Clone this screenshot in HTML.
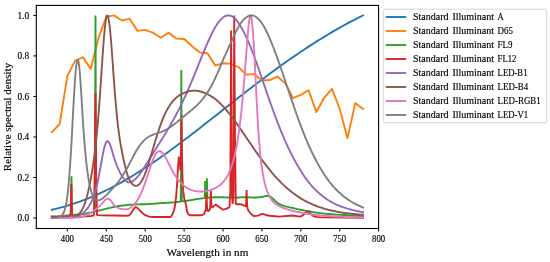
<!DOCTYPE html>
<html><head><meta charset="utf-8"><title>Standard Illuminants</title>
<style>
html,body{margin:0;padding:0;background:#fff;}
body{width:550px;height:262px;overflow:hidden;position:relative;}
.t{font-family:"Liberation Serif","DejaVu Serif",serif;fill:#000;stroke:#000;stroke-width:0.15px;}
</style></head><body>
<svg width="550" height="262" viewBox="0 0 550 262" style="position:absolute;left:0;top:0">
<rect width="550" height="262" fill="#fff"/>
<clipPath id="c"><rect x="36.3" y="5.4" width="342.3" height="223.1"/></clipPath>
<g clip-path="url(#c)"><polyline points="51.86,209.79 55.75,208.86 59.64,207.87 63.53,206.80 67.42,205.67 71.31,204.46 75.20,203.18 79.09,201.83 82.98,200.40 86.87,198.90 90.76,197.32 94.65,195.67 98.54,193.94 102.43,192.14 106.32,190.26 110.21,188.32 114.10,186.30 117.99,184.22 121.88,182.06 125.76,179.84 129.65,177.56 133.54,175.21 137.43,172.80 141.32,170.34 145.21,167.82 149.10,165.24 152.99,162.62 156.88,159.94 160.77,157.23 164.66,154.46 168.55,151.66 172.44,148.82 176.33,145.95 180.22,143.04 184.11,140.11 188.00,137.15 191.89,134.17 195.78,131.17 199.67,128.15 203.56,125.11 207.45,122.07 211.34,119.01 215.23,115.95 219.12,112.89 223.01,109.82 226.90,106.76 230.79,103.70 234.68,100.65 238.57,97.60 242.46,94.57 246.35,91.55 250.24,88.55 254.13,85.56 258.02,82.60 261.91,79.65 265.80,76.74 269.69,73.84 273.58,70.97 277.47,68.14 281.36,65.33 285.25,62.55 289.14,59.81 293.03,57.10 296.91,54.43 300.80,51.79 304.69,49.20 308.58,46.64 312.47,44.12 316.36,41.65 320.25,39.21 324.14,36.82 328.03,34.48 331.92,32.17 335.81,29.91 339.70,27.70 343.59,25.54 347.48,23.41 351.37,21.34 355.26,19.31 359.15,17.33 363.04,15.40" fill="none" stroke="#1f77b4" stroke-width="1.9" stroke-linejoin="round" stroke-linecap="square"/>
<polyline points="51.86,132.06 55.75,128.04 59.64,124.02 63.53,99.85 67.42,75.69 71.31,68.18 75.20,60.67 79.09,59.00 82.98,57.33 86.87,63.13 90.76,68.93 94.65,53.30 98.54,37.66 102.43,27.22 106.32,16.78 110.21,16.09 114.10,15.40 117.99,17.94 121.88,20.47 125.76,19.56 129.65,18.65 133.54,24.76 137.43,30.88 141.32,30.41 145.21,29.95 149.10,31.28 152.99,32.61 156.88,35.20 160.77,37.79 164.66,35.30 168.55,32.81 172.44,35.63 176.33,38.46 180.22,38.77 184.11,39.07 188.00,42.55 191.89,46.03 195.78,49.18 199.67,52.34 203.56,52.80 207.45,53.27 211.34,59.38 215.23,65.49 219.12,64.35 223.01,63.22 226.90,63.57 230.79,63.92 234.68,65.55 238.57,67.19 242.46,70.98 246.35,74.77 250.24,74.42 254.13,74.06 258.02,77.22 261.91,80.38 265.80,80.22 269.69,80.06 273.58,78.28 277.47,76.51 281.36,79.94 285.25,83.38 289.14,90.74 293.03,98.10 296.91,96.48 300.80,94.85 304.69,92.50 308.58,90.14 312.47,101.10 316.36,112.06 320.25,104.94 324.14,97.82 328.03,93.35 331.92,88.87 335.81,98.76 339.70,108.64 343.59,123.41 347.48,138.18 351.37,120.65 355.26,103.12 359.15,106.06 363.04,109.00" fill="none" stroke="#ff7f0e" stroke-width="1.9" stroke-linejoin="round" stroke-linecap="square"/>
<polyline points="51.86,216.73 52.64,216.66 53.41,216.60 54.19,216.54 54.97,216.48 55.75,216.41 56.53,216.35 57.30,216.28 58.08,216.21 58.86,216.14 59.64,216.07 60.42,216.01 61.19,215.94 61.97,215.87 62.75,215.80 63.53,215.73 64.31,215.67 65.08,215.60 65.86,215.53 66.64,215.46 67.42,215.39 68.20,215.33 68.97,215.26 69.75,215.19 70.53,215.12 70.92,215.09 71.31,188.19 71.46,176.26 72.01,214.99 72.09,214.99 72.86,214.92 73.64,214.85 74.42,214.78 75.20,214.71 75.98,214.65 76.75,214.58 77.53,214.51 78.31,214.44 79.09,214.37 79.87,214.29 80.64,214.20 81.42,214.12 82.20,214.03 82.98,213.95 83.76,213.83 84.53,213.70 85.31,213.58 86.09,213.45 86.87,213.33 87.64,213.18 88.42,213.03 89.20,212.89 89.98,212.74 90.76,212.59 91.53,212.40 92.31,212.21 93.09,212.02 93.87,211.83 94.65,211.64 94.96,211.56 95.42,44.34 95.50,15.40 96.05,211.29 96.20,211.26 96.98,211.06 97.76,210.87 98.54,210.68 99.31,210.49 100.09,210.30 100.87,210.11 101.65,209.92 102.43,209.73 103.20,209.52 103.98,209.32 104.76,209.11 105.54,208.90 106.32,208.70 107.09,208.50 107.87,208.31 108.65,208.12 109.43,207.93 110.21,207.73 110.98,207.56 111.76,207.39 112.54,207.22 113.32,207.04 114.10,206.87 114.87,206.73 115.65,206.59 116.43,206.45 117.21,206.31 117.99,206.18 118.76,206.06 119.54,205.95 120.32,205.84 121.10,205.72 121.88,205.61 122.65,205.52 123.43,205.43 124.21,205.35 124.99,205.26 125.76,205.17 126.54,205.10 127.32,205.03 128.10,204.96 128.88,204.89 129.65,204.82 130.43,204.77 131.21,204.72 131.99,204.67 132.77,204.62 133.54,204.58 134.32,204.54 135.10,204.50 135.88,204.47 136.66,204.43 137.43,204.39 138.21,204.37 138.99,204.35 139.77,204.33 140.55,204.31 141.32,204.29 142.10,204.28 142.88,204.26 143.66,204.24 144.44,204.22 145.21,204.21 145.99,204.17 146.77,204.13 147.55,204.09 148.33,204.05 149.10,204.01 149.88,203.96 150.66,203.92 151.44,203.87 152.22,203.83 152.99,203.78 153.77,203.72 154.55,203.66 155.33,203.60 156.10,203.53 156.88,203.47 157.66,203.41 158.44,203.35 159.22,203.28 159.99,203.22 160.77,203.16 161.55,203.12 162.33,203.07 163.11,203.03 163.88,202.99 164.66,202.95 165.44,202.90 166.22,202.86 167.00,202.82 167.77,202.78 168.55,202.73 169.33,202.68 170.11,202.63 170.89,202.58 171.66,202.53 172.44,202.48 173.22,202.42 174.00,202.36 174.78,202.29 175.55,202.23 176.33,202.17 177.11,202.06 177.89,201.96 178.67,201.86 179.44,201.75 180.22,201.65 180.77,201.58 181.00,154.62 181.31,70.10 181.78,196.87 181.86,201.43 182.56,201.34 183.33,201.23 184.11,201.13 184.89,201.03 185.67,200.92 186.45,200.82 187.22,200.71 188.00,200.61 188.78,200.48 189.56,200.35 190.33,200.22 191.11,200.09 191.89,199.96 192.67,199.83 193.45,199.69 194.22,199.56 195.00,199.43 195.78,199.29 196.56,199.17 197.34,199.04 198.11,198.92 198.89,198.80 199.67,198.67 200.45,198.59 201.23,198.50 202.00,198.42 202.78,198.33 203.56,198.25 204.34,198.16 204.65,198.13 205.12,186.22 205.19,180.92 205.74,198.01 205.89,197.99 206.28,197.95 206.67,189.56 206.83,178.19 207.37,197.83 207.45,197.82 208.23,197.74 209.01,197.65 209.78,197.57 210.56,197.48 211.34,197.40 212.12,197.37 212.90,197.34 213.67,197.31 214.45,197.28 215.23,197.25 216.01,197.25 216.79,197.25 217.56,197.25 218.34,197.24 219.12,197.24 219.90,197.25 220.68,197.27 221.45,197.28 222.23,197.30 223.01,197.31 223.79,197.34 224.56,197.37 225.34,197.40 226.12,197.44 226.90,197.47 227.68,197.50 228.45,197.53 229.23,197.56 230.01,197.59 230.79,197.62 231.57,197.62 232.34,197.62 233.12,197.61 233.90,197.61 234.68,197.61 235.46,197.59 236.23,197.57 237.01,197.55 237.79,197.53 238.57,197.51 239.35,197.47 240.12,197.42 240.90,197.38 241.68,197.34 242.46,197.30 243.24,197.27 244.01,197.24 244.79,197.21 245.57,197.18 246.35,197.16 247.13,197.20 247.90,197.25 248.68,197.30 249.46,197.35 250.24,197.40 251.02,197.44 251.79,197.48 252.57,197.52 253.35,197.57 254.13,197.61 254.91,197.56 255.68,197.51 256.46,197.46 257.24,197.40 258.02,197.35 258.80,197.27 259.57,197.18 260.35,197.10 261.13,197.01 261.91,196.93 262.68,196.75 263.46,196.57 264.24,196.39 265.02,196.21 265.80,196.04 266.57,196.05 267.35,196.06 268.13,196.07 268.91,196.08 269.69,196.09 270.46,196.74 271.24,197.38 272.02,198.02 272.80,198.66 273.58,199.31 274.35,200.05 275.13,200.80 275.91,201.54 276.69,202.29 277.47,203.03 278.24,203.43 279.02,203.82 279.80,204.21 280.58,204.61 281.36,205.00 282.13,205.26 282.91,205.53 283.69,205.79 284.47,206.05 285.25,206.32 286.02,206.51 286.80,206.70 287.58,206.90 288.36,207.09 289.14,207.28 289.91,207.43 290.69,207.59 291.47,207.74 292.25,207.89 293.03,208.04 293.80,208.24 294.58,208.43 295.36,208.62 296.14,208.82 296.91,209.01 297.69,209.19 298.47,209.36 299.25,209.54 300.03,209.72 300.80,209.90 301.58,210.03 302.36,210.17 303.14,210.30 303.92,210.43 304.69,210.57 305.47,210.69 306.25,210.82 307.03,210.95 307.81,211.08 308.58,211.20 309.36,211.35 310.14,211.49 310.92,211.64 311.70,211.78 312.47,211.92 313.25,212.06 314.03,212.20 314.81,212.34 315.59,212.48 316.36,212.62 317.14,212.72 317.92,212.83 318.70,212.93 319.48,213.04 320.25,213.14 321.03,213.23 321.81,213.32 322.59,213.41 323.37,213.49 324.14,213.58 324.92,213.66 325.70,213.73 326.48,213.80 327.25,213.88 328.03,213.95 328.81,214.01 329.59,214.07 330.37,214.14 331.14,214.20 331.92,214.26 332.70,214.32 333.48,214.38 334.26,214.44 335.03,214.50 335.81,214.56 336.59,214.61 337.37,214.66 338.15,214.70 338.92,214.75 339.70,214.80 340.48,214.83 341.26,214.87 342.04,214.90 342.81,214.94 343.59,214.97 344.37,215.00 345.15,215.04 345.93,215.07 346.70,215.11 347.48,215.14 348.26,215.19 349.04,215.25 349.82,215.30 350.59,215.35 351.37,215.41 352.15,215.47 352.93,215.53 353.71,215.60 354.48,215.66 355.26,215.72 356.04,215.79 356.82,215.85 357.60,215.92 358.37,215.98 359.15,216.05 359.93,216.12 360.71,216.19 361.49,216.27 362.26,216.34 363.04,216.41" fill="none" stroke="#2ca02c" stroke-width="1.9" stroke-linejoin="bevel" stroke-linecap="square"/>
<polyline points="51.86,216.38 55.75,216.78 63.53,216.99 70.06,216.58 70.69,211.92 71.31,183.96 71.93,211.92 72.55,216.58 82.98,216.58 90.76,215.97 93.87,215.37 94.65,177.48 95.42,93.00 96.20,177.48 96.98,215.16 102.43,215.37 114.10,215.57 125.76,215.77 128.88,215.57 131.21,213.14 133.54,209.09 135.10,207.46 135.88,207.26 137.43,207.87 139.77,210.30 142.10,212.73 145.21,215.16 149.10,216.58 152.99,216.99 168.55,216.99 170.89,216.78 172.44,214.35 174.00,210.30 174.78,206.86 175.55,201.79 176.33,194.09 177.11,183.56 177.89,169.38 178.67,158.23 179.13,156.81 179.75,159.25 180.38,170.39 180.84,167.35 181.47,115.28 182.09,161.27 182.56,179.51 183.33,191.66 184.11,197.74 184.89,200.78 185.67,203.41 186.45,207.87 187.22,211.92 188.00,213.54 188.78,214.56 190.33,215.26 201.23,215.26 203.56,214.35 204.34,213.54 205.12,210.91 205.89,209.90 206.52,194.09 207.14,209.90 208.23,211.52 210.10,208.88 210.80,190.65 211.50,205.84 212.51,207.67 213.67,206.25 215.23,204.83 216.01,204.63 219.12,207.06 223.01,209.69 226.12,208.88 229.23,207.46 229.54,206.25 230.32,191.66 231.10,30.39 231.88,193.69 232.66,203.82 233.43,193.69 234.21,15.40 234.99,136.96 235.77,203.82 236.23,204.22 240.90,204.22 246.04,206.45 246.58,190.04 247.13,205.84 247.90,209.69 251.02,213.95 254.13,216.18 258.02,215.57 261.91,213.95 262.68,213.95 265.80,214.96 269.69,215.77 279.02,216.58 292.25,215.47 300.03,216.58 303.14,215.16 305.47,212.73 307.81,211.52 308.58,211.52 310.92,213.95 313.25,215.97 315.59,216.89 320.25,217.39 363.04,217.80" fill="none" stroke="#d62728" stroke-width="1.9" stroke-linejoin="bevel" stroke-linecap="square"/>
<polyline points="51.86,218.00 52.64,217.96 53.41,217.93 54.19,217.92 54.97,217.91 55.75,217.90 56.53,217.90 57.30,217.91 58.08,217.91 58.86,217.91 59.64,217.90 60.42,217.89 61.19,217.88 61.97,217.86 62.75,217.84 63.53,217.81 64.31,217.77 65.08,217.73 65.86,217.69 66.64,217.65 67.42,217.61 68.20,217.58 68.97,217.53 69.75,217.48 70.53,217.41 71.31,217.33 72.09,217.21 72.86,217.07 73.64,216.91 74.42,216.74 75.20,216.55 75.98,216.36 76.75,216.14 77.53,215.90 78.31,215.63 79.09,215.30 79.87,214.92 80.64,214.49 81.42,214.00 82.20,213.47 82.98,212.89 83.76,212.27 84.53,211.59 85.31,210.84 86.09,210.03 86.87,209.13 87.64,208.14 88.42,207.05 89.20,205.86 89.98,204.57 90.76,203.15 91.53,201.62 92.31,199.94 93.09,198.08 93.87,196.01 94.65,193.71 95.42,191.14 96.20,188.29 96.98,185.15 97.76,181.69 98.54,177.90 99.31,173.78 100.09,169.45 100.87,165.02 101.65,160.63 102.43,156.40 103.20,152.46 103.98,148.92 104.76,145.91 105.54,143.54 106.32,141.94 107.09,141.17 107.87,141.19 108.65,141.90 109.43,143.21 110.21,145.02 110.98,147.24 111.76,149.75 112.54,152.42 113.32,155.13 114.10,157.75 114.87,160.18 115.65,162.43 116.43,164.51 117.21,166.44 117.99,168.26 118.76,169.96 119.54,171.58 120.32,173.10 121.10,174.53 121.88,175.87 122.65,177.13 123.43,178.29 124.21,179.33 124.99,180.23 125.76,180.98 126.54,181.56 127.32,181.97 128.10,182.23 128.88,182.35 129.65,182.33 130.43,182.19 131.21,181.93 131.99,181.57 132.77,181.13 133.54,180.60 134.32,179.99 135.10,179.33 135.88,178.59 136.66,177.79 137.43,176.93 138.21,176.01 138.99,175.04 139.77,174.01 140.55,172.94 141.32,171.82 142.10,170.67 142.88,169.49 143.66,168.29 144.44,167.07 145.21,165.85 145.99,164.62 146.77,163.39 147.55,162.16 148.33,160.92 149.10,159.68 149.88,158.43 150.66,157.17 151.44,155.91 152.22,154.66 152.99,153.41 153.77,152.17 154.55,150.93 155.33,149.69 156.10,148.47 156.88,147.24 157.66,146.01 158.44,144.79 159.22,143.56 159.99,142.32 160.77,141.07 161.55,139.81 162.33,138.54 163.11,137.27 163.88,135.99 164.66,134.71 165.44,133.43 166.22,132.15 167.00,130.86 167.77,129.56 168.55,128.25 169.33,126.91 170.11,125.56 170.89,124.19 171.66,122.80 172.44,121.40 173.22,119.99 174.00,118.57 174.78,117.14 175.55,115.71 176.33,114.27 177.11,112.82 177.89,111.37 178.67,109.89 179.44,108.38 180.22,106.85 181.00,105.27 181.78,103.65 182.56,102.01 183.33,100.34 184.11,98.65 184.89,96.95 185.67,95.24 186.45,93.50 187.22,91.75 188.00,89.98 188.78,88.17 189.56,86.35 190.33,84.52 191.11,82.67 191.89,80.82 192.67,78.96 193.45,77.10 194.22,75.24 195.00,73.36 195.78,71.47 196.56,69.56 197.34,67.63 198.11,65.70 198.89,63.76 199.67,61.83 200.45,59.90 201.23,57.98 202.00,56.07 202.78,54.17 203.56,52.28 204.34,50.41 205.12,48.56 205.89,46.73 206.67,44.91 207.45,43.12 208.23,41.36 209.01,39.62 209.78,37.92 210.56,36.26 211.34,34.64 212.12,33.07 212.90,31.54 213.67,30.07 214.45,28.66 215.23,27.31 216.01,26.03 216.79,24.80 217.56,23.65 218.34,22.55 219.12,21.53 219.90,20.57 220.68,19.68 221.45,18.86 222.23,18.13 223.01,17.48 223.79,16.92 224.56,16.44 225.34,16.06 226.12,15.76 226.90,15.55 227.68,15.43 228.45,15.40 229.23,15.46 230.01,15.60 230.79,15.84 231.57,16.17 232.34,16.58 233.12,17.08 233.90,17.67 234.68,18.35 235.46,19.11 236.23,19.95 237.01,20.88 237.79,21.89 238.57,22.97 239.35,24.14 240.12,25.38 240.90,26.68 241.68,28.03 242.46,29.43 243.24,30.88 244.01,32.37 244.79,33.91 245.57,35.50 246.35,37.15 247.13,38.86 247.90,40.62 248.68,42.44 249.46,44.30 250.24,46.21 251.02,48.15 251.79,50.12 252.57,52.12 253.35,54.16 254.13,56.23 254.91,58.34 255.68,60.47 256.46,62.63 257.24,64.82 258.02,67.03 258.80,69.26 259.57,71.51 260.35,73.77 261.13,76.03 261.91,78.31 262.68,80.59 263.46,82.87 264.24,85.15 265.02,87.42 265.80,89.69 266.57,91.94 267.35,94.19 268.13,96.42 268.91,98.65 269.69,100.87 270.46,103.08 271.24,105.28 272.02,107.46 272.80,109.63 273.58,111.76 274.35,113.87 275.13,115.96 275.91,118.02 276.69,120.05 277.47,122.08 278.24,124.09 279.02,126.08 279.80,128.05 280.58,129.99 281.36,131.91 282.13,133.80 282.91,135.66 283.69,137.49 284.47,139.29 285.25,141.07 286.02,142.82 286.80,144.55 287.58,146.25 288.36,147.92 289.14,149.55 289.91,151.16 290.69,152.73 291.47,154.27 292.25,155.78 293.03,157.27 293.80,158.72 294.58,160.15 295.36,161.56 296.14,162.94 296.91,164.30 297.69,165.65 298.47,166.97 299.25,168.28 300.03,169.58 300.80,170.86 301.58,172.12 302.36,173.37 303.14,174.59 303.92,175.78 304.69,176.93 305.47,178.04 306.25,179.12 307.03,180.16 307.81,181.16 308.58,182.14 309.36,183.09 310.14,184.01 310.92,184.92 311.70,185.80 312.47,186.67 313.25,187.52 314.03,188.35 314.81,189.16 315.59,189.95 316.36,190.72 317.14,191.45 317.92,192.17 318.70,192.86 319.48,193.53 320.25,194.19 321.03,194.83 321.81,195.46 322.59,196.08 323.37,196.68 324.14,197.27 324.92,197.85 325.70,198.40 326.48,198.94 327.25,199.47 328.03,199.97 328.81,200.46 329.59,200.94 330.37,201.40 331.14,201.85 331.92,202.29 332.70,202.72 333.48,203.14 334.26,203.54 335.03,203.94 335.81,204.31 336.59,204.67 337.37,205.00 338.15,205.33 338.92,205.64 339.70,205.95 340.48,206.25 341.26,206.55 342.04,206.84 342.81,207.12 343.59,207.40 344.37,207.66 345.15,207.92 345.93,208.17 346.70,208.42 347.48,208.65 348.26,208.87 349.04,209.09 349.82,209.30 350.59,209.51 351.37,209.71 352.15,209.91 352.93,210.11 353.71,210.31 354.48,210.49 355.26,210.67 356.04,210.84 356.82,211.00 357.60,211.16 358.37,211.30 359.15,211.44 359.93,211.58 360.71,211.72 361.49,211.85 362.26,211.98 363.04,212.12" fill="none" stroke="#9467bd" stroke-width="1.9" stroke-linejoin="round" stroke-linecap="square"/>
<polyline points="51.86,218.00 52.64,217.99 53.41,217.99 54.19,217.99 54.97,218.00 55.75,218.00 56.53,218.00 57.30,218.00 58.08,218.00 58.86,218.00 59.64,218.00 60.42,217.99 61.19,217.98 61.97,217.96 62.75,217.94 63.53,217.92 64.31,217.90 65.08,217.87 65.86,217.84 66.64,217.81 67.42,217.77 68.20,217.72 68.97,217.66 69.75,217.58 70.53,217.49 71.31,217.38 72.09,217.25 72.86,217.09 73.64,216.89 74.42,216.66 75.20,216.37 75.98,216.04 76.75,215.63 77.53,215.14 78.31,214.54 79.09,213.82 79.87,212.96 80.64,211.94 81.42,210.77 82.20,209.41 82.98,207.85 83.76,206.09 84.53,204.11 85.31,201.90 86.09,199.43 86.87,196.70 87.64,193.69 88.42,190.41 89.20,186.86 89.98,183.04 90.76,178.96 91.53,174.62 92.31,169.97 93.09,164.95 93.87,159.53 94.65,153.64 95.42,147.22 96.20,140.19 96.98,132.45 97.76,123.90 98.54,114.45 99.31,104.06 100.09,92.96 100.87,81.45 101.65,69.82 102.43,58.37 103.20,47.41 103.98,37.37 104.76,28.70 105.54,21.87 106.32,17.32 107.09,15.40 107.87,16.02 108.65,18.99 109.43,24.11 110.21,31.18 110.98,39.96 111.76,50.00 112.54,60.80 113.32,71.86 114.10,82.69 114.87,92.86 115.65,102.29 116.43,110.93 117.21,118.79 117.99,125.83 118.76,132.06 119.54,137.59 120.32,142.54 121.10,147.05 121.88,151.24 122.65,155.21 123.43,158.98 124.21,162.53 124.99,165.84 125.76,168.89 126.54,171.68 127.32,174.20 128.10,176.44 128.88,178.42 129.65,180.13 130.43,181.57 131.21,182.76 131.99,183.73 132.77,184.49 133.54,185.08 134.32,185.51 135.10,185.77 135.88,185.87 136.66,185.80 137.43,185.55 138.21,185.12 138.99,184.51 139.77,183.72 140.55,182.75 141.32,181.60 142.10,180.27 142.88,178.77 143.66,177.11 144.44,175.28 145.21,173.31 145.99,171.19 146.77,168.95 147.55,166.61 148.33,164.18 149.10,161.69 149.88,159.15 150.66,156.58 151.44,153.99 152.22,151.37 152.99,148.76 153.77,146.14 154.55,143.54 155.33,140.96 156.10,138.41 156.88,135.90 157.66,133.44 158.44,131.03 159.22,128.68 159.99,126.41 160.77,124.20 161.55,122.08 162.33,120.05 163.11,118.11 163.88,116.26 164.66,114.52 165.44,112.89 166.22,111.35 167.00,109.91 167.77,108.54 168.55,107.24 169.33,106.00 170.11,104.83 170.89,103.71 171.66,102.65 172.44,101.67 173.22,100.74 174.00,99.88 174.78,99.08 175.55,98.33 176.33,97.64 177.11,96.99 177.89,96.40 178.67,95.84 179.44,95.33 180.22,94.85 181.00,94.41 181.78,94.00 182.56,93.61 183.33,93.25 184.11,92.91 184.89,92.59 185.67,92.28 186.45,92.00 187.22,91.74 188.00,91.52 188.78,91.33 189.56,91.16 190.33,91.03 191.11,90.92 191.89,90.82 192.67,90.74 193.45,90.69 194.22,90.65 195.00,90.64 195.78,90.67 196.56,90.73 197.34,90.82 198.11,90.95 198.89,91.11 199.67,91.29 200.45,91.49 201.23,91.72 202.00,91.97 202.78,92.24 203.56,92.53 204.34,92.83 205.12,93.15 205.89,93.49 206.67,93.85 207.45,94.23 208.23,94.63 209.01,95.05 209.78,95.48 210.56,95.93 211.34,96.40 212.12,96.88 212.90,97.38 213.67,97.90 214.45,98.45 215.23,99.03 216.01,99.65 216.79,100.29 217.56,100.97 218.34,101.66 219.12,102.36 219.90,103.08 220.68,103.81 221.45,104.57 222.23,105.35 223.01,106.16 223.79,107.01 224.56,107.89 225.34,108.79 226.12,109.71 226.90,110.65 227.68,111.59 228.45,112.54 229.23,113.50 230.01,114.47 230.79,115.45 231.57,116.45 232.34,117.46 233.12,118.50 233.90,119.56 234.68,120.64 235.46,121.75 236.23,122.88 237.01,124.02 237.79,125.16 238.57,126.30 239.35,127.42 240.12,128.53 240.90,129.64 241.68,130.75 242.46,131.87 243.24,133.01 244.01,134.15 244.79,135.31 245.57,136.46 246.35,137.60 247.13,138.74 247.90,139.87 248.68,141.00 249.46,142.12 250.24,143.26 251.02,144.40 251.79,145.55 252.57,146.70 253.35,147.85 254.13,148.99 254.91,150.13 255.68,151.25 256.46,152.37 257.24,153.47 258.02,154.57 258.80,155.65 259.57,156.71 260.35,157.76 261.13,158.80 261.91,159.83 262.68,160.85 263.46,161.86 264.24,162.86 265.02,163.86 265.80,164.87 266.57,165.88 267.35,166.89 268.13,167.90 268.91,168.91 269.69,169.90 270.46,170.88 271.24,171.84 272.02,172.79 272.80,173.72 273.58,174.63 274.35,175.51 275.13,176.38 275.91,177.23 276.69,178.07 277.47,178.89 278.24,179.69 279.02,180.49 279.80,181.27 280.58,182.06 281.36,182.84 282.13,183.62 282.91,184.39 283.69,185.15 284.47,185.90 285.25,186.63 286.02,187.34 286.80,188.02 287.58,188.68 288.36,189.33 289.14,189.96 289.91,190.59 290.69,191.20 291.47,191.81 292.25,192.40 293.03,192.98 293.80,193.56 294.58,194.12 295.36,194.67 296.14,195.22 296.91,195.77 297.69,196.32 298.47,196.85 299.25,197.38 300.03,197.90 300.80,198.40 301.58,198.89 302.36,199.35 303.14,199.80 303.92,200.23 304.69,200.65 305.47,201.06 306.25,201.45 307.03,201.84 307.81,202.22 308.58,202.59 309.36,202.95 310.14,203.31 310.92,203.67 311.70,204.02 312.47,204.37 313.25,204.71 314.03,205.04 314.81,205.37 315.59,205.69 316.36,205.99 317.14,206.29 317.92,206.58 318.70,206.85 319.48,207.12 320.25,207.39 321.03,207.65 321.81,207.90 322.59,208.15 323.37,208.39 324.14,208.63 324.92,208.86 325.70,209.08 326.48,209.30 327.25,209.51 328.03,209.71 328.81,209.91 329.59,210.11 330.37,210.29 331.14,210.47 331.92,210.64 332.70,210.80 333.48,210.96 334.26,211.11 335.03,211.26 335.81,211.42 336.59,211.57 337.37,211.73 338.15,211.89 338.92,212.04 339.70,212.19 340.48,212.33 341.26,212.46 342.04,212.59 342.81,212.70 343.59,212.81 344.37,212.91 345.15,213.00 345.93,213.10 346.70,213.18 347.48,213.28 348.26,213.37 349.04,213.46 349.82,213.56 350.59,213.65 351.37,213.74 352.15,213.82 352.93,213.90 353.71,213.98 354.48,214.05 355.26,214.13 356.04,214.21 356.82,214.29 357.60,214.37 358.37,214.44 359.15,214.51 359.93,214.58 360.71,214.64 361.49,214.69 362.26,214.72 363.04,214.75" fill="none" stroke="#8c564b" stroke-width="1.9" stroke-linejoin="round" stroke-linecap="square"/>
<polyline points="51.86,218.00 52.64,218.00 53.41,218.00 54.19,218.00 54.97,218.00 55.75,218.00 56.53,218.00 57.30,218.00 58.08,218.00 58.86,218.00 59.64,218.00 60.42,218.00 61.19,217.99 61.97,217.98 62.75,217.97 63.53,217.97 64.31,217.96 65.08,217.96 65.86,217.95 66.64,217.94 67.42,217.94 68.20,217.92 68.97,217.91 69.75,217.89 70.53,217.86 71.31,217.84 72.09,217.81 72.86,217.78 73.64,217.74 74.42,217.70 75.20,217.64 75.98,217.58 76.75,217.51 77.53,217.43 78.31,217.34 79.09,217.22 79.87,217.10 80.64,216.95 81.42,216.78 82.20,216.59 82.98,216.38 83.76,216.15 84.53,215.90 85.31,215.61 86.09,215.30 86.87,214.96 87.64,214.59 88.42,214.19 89.20,213.76 89.98,213.31 90.76,212.83 91.53,212.33 92.31,211.81 93.09,211.27 93.87,210.71 94.65,210.15 95.42,209.57 96.20,208.98 96.98,208.37 97.76,207.74 98.54,207.08 99.31,206.38 100.09,205.65 100.87,204.88 101.65,204.05 102.43,203.17 103.20,202.23 103.98,201.29 104.76,200.42 105.54,199.68 106.32,199.13 107.09,198.82 107.87,198.76 108.65,198.95 109.43,199.37 110.21,200.03 110.98,200.91 111.76,201.93 112.54,203.02 113.32,204.10 114.10,205.07 114.87,205.89 115.65,206.55 116.43,207.08 117.21,207.50 117.99,207.85 118.76,208.15 119.54,208.39 120.32,208.61 121.10,208.79 121.88,208.95 122.65,209.10 123.43,209.22 124.21,209.31 124.99,209.35 125.76,209.34 126.54,209.26 127.32,209.11 128.10,208.89 128.88,208.59 129.65,208.21 130.43,207.75 131.21,207.21 131.99,206.59 132.77,205.90 133.54,205.14 134.32,204.30 135.10,203.39 135.88,202.39 136.66,201.31 137.43,200.13 138.21,198.85 138.99,197.46 139.77,195.97 140.55,194.37 141.32,192.66 142.10,190.85 142.88,188.92 143.66,186.90 144.44,184.78 145.21,182.58 145.99,180.29 146.77,177.95 147.55,175.57 148.33,173.17 149.10,170.78 149.88,168.43 150.66,166.13 151.44,163.91 152.22,161.79 152.99,159.80 153.77,157.95 154.55,156.29 155.33,154.82 156.10,153.58 156.88,152.59 157.66,151.87 158.44,151.41 159.22,151.20 159.99,151.25 160.77,151.52 161.55,152.02 162.33,152.73 163.11,153.62 163.88,154.68 164.66,155.89 165.44,157.22 166.22,158.65 167.00,160.16 167.77,161.71 168.55,163.29 169.33,164.86 170.11,166.41 170.89,167.94 171.66,169.43 172.44,170.88 173.22,172.27 174.00,173.61 174.78,174.88 175.55,176.09 176.33,177.25 177.11,178.34 177.89,179.37 178.67,180.35 179.44,181.28 180.22,182.16 181.00,183.00 181.78,183.79 182.56,184.54 183.33,185.25 184.11,185.91 184.89,186.53 185.67,187.10 186.45,187.63 187.22,188.12 188.00,188.56 188.78,188.96 189.56,189.32 190.33,189.65 191.11,189.94 191.89,190.21 192.67,190.45 193.45,190.66 194.22,190.85 195.00,191.01 195.78,191.14 196.56,191.25 197.34,191.33 198.11,191.40 198.89,191.44 199.67,191.47 200.45,191.48 201.23,191.48 202.00,191.46 202.78,191.43 203.56,191.37 204.34,191.29 205.12,191.19 205.89,191.08 206.67,190.94 207.45,190.79 208.23,190.62 209.01,190.44 209.78,190.23 210.56,190.00 211.34,189.75 212.12,189.48 212.90,189.18 213.67,188.85 214.45,188.49 215.23,188.11 216.01,187.69 216.79,187.25 217.56,186.76 218.34,186.24 219.12,185.68 219.90,185.07 220.68,184.42 221.45,183.71 222.23,182.95 223.01,182.13 223.79,181.24 224.56,180.29 225.34,179.24 226.12,178.09 226.90,176.83 227.68,175.44 228.45,173.90 229.23,172.23 230.01,170.39 230.79,168.39 231.57,166.21 232.34,163.83 233.12,161.22 233.90,158.36 234.68,155.21 235.46,151.74 236.23,147.92 237.01,143.71 237.79,139.07 238.57,133.94 239.35,128.30 240.12,122.13 240.90,115.39 241.68,108.06 242.46,100.14 243.24,91.60 244.01,82.52 244.79,72.98 245.57,63.07 246.35,52.86 247.13,42.55 247.90,32.85 248.68,24.55 249.46,18.46 250.24,15.40 251.02,15.97 251.79,20.04 252.57,27.24 253.35,37.25 254.13,49.72 254.91,64.22 255.68,79.94 256.46,95.99 257.24,111.48 258.02,125.51 258.80,137.39 259.57,147.24 260.35,155.40 261.13,162.18 261.91,167.91 262.68,172.87 263.46,177.19 264.24,180.93 265.02,184.19 265.80,187.04 266.57,189.55 267.35,191.75 268.13,193.69 268.91,195.38 269.69,196.86 270.46,198.17 271.24,199.31 272.02,200.31 272.80,201.21 273.58,202.00 274.35,202.73 275.13,203.38 275.91,203.98 276.69,204.53 277.47,205.04 278.24,205.51 279.02,205.95 279.80,206.36 280.58,206.75 281.36,207.11 282.13,207.45 282.91,207.78 283.69,208.09 284.47,208.38 285.25,208.66 286.02,208.92 286.80,209.18 287.58,209.42 288.36,209.66 289.14,209.89 289.91,210.12 290.69,210.34 291.47,210.55 292.25,210.76 293.03,210.95 293.80,211.14 294.58,211.31 295.36,211.47 296.14,211.64 296.91,211.79 297.69,211.96 298.47,212.12 299.25,212.28 300.03,212.44 300.80,212.60 301.58,212.76 302.36,212.91 303.14,213.06 303.92,213.21 304.69,213.35 305.47,213.48 306.25,213.61 307.03,213.73 307.81,213.85 308.58,213.96 309.36,214.07 310.14,214.17 310.92,214.27 311.70,214.37 312.47,214.48 313.25,214.58 314.03,214.69 314.81,214.80 315.59,214.90 316.36,214.99 317.14,215.08 317.92,215.15 318.70,215.22 319.48,215.28 320.25,215.35 321.03,215.42 321.81,215.49 322.59,215.56 323.37,215.63 324.14,215.71 324.92,215.78 325.70,215.84 326.48,215.91 327.25,215.97 328.03,216.03 328.81,216.08 329.59,216.13 330.37,216.19 331.14,216.24 331.92,216.29 332.70,216.34 333.48,216.40 334.26,216.45 335.03,216.50 335.81,216.55 336.59,216.59 337.37,216.62 338.15,216.65 338.92,216.68 339.70,216.71 340.48,216.74 341.26,216.77 342.04,216.80 342.81,216.83 343.59,216.87 344.37,216.90 345.15,216.94 345.93,216.97 346.70,217.00 347.48,217.03 348.26,217.05 349.04,217.07 349.82,217.09 350.59,217.11 351.37,217.13 352.15,217.15 352.93,217.17 353.71,217.18 354.48,217.20 355.26,217.22 356.04,217.24 356.82,217.26 357.60,217.28 358.37,217.30 359.15,217.32 359.93,217.34 360.71,217.37 361.49,217.39 362.26,217.42 363.04,217.45" fill="none" stroke="#e377c2" stroke-width="1.9" stroke-linejoin="round" stroke-linecap="square"/>
<polyline points="51.86,217.91 52.64,217.89 53.41,217.87 54.19,217.84 54.97,217.80 55.75,217.74 56.53,217.65 57.30,217.52 58.08,217.34 58.86,217.11 59.64,216.80 60.42,216.42 61.19,215.89 61.97,215.15 62.75,214.14 63.53,212.79 64.31,211.02 65.08,208.63 65.86,205.41 66.64,201.14 67.42,195.63 68.20,188.68 68.97,180.25 69.75,170.34 70.53,158.93 71.31,146.02 72.09,131.74 72.86,116.82 73.64,102.14 74.42,88.59 75.20,77.02 75.98,68.21 76.75,62.44 77.53,59.89 78.31,60.74 79.09,65.15 79.87,73.11 80.64,83.78 81.42,96.15 82.20,109.18 82.98,121.85 83.76,133.32 84.53,143.51 85.31,152.50 86.09,160.39 86.87,167.28 87.64,173.26 88.42,178.42 89.20,182.83 89.98,186.57 90.76,189.74 91.53,192.39 92.31,194.58 93.09,196.34 93.87,197.73 94.65,198.79 95.42,199.54 96.20,200.04 96.98,200.31 97.76,200.40 98.54,200.32 99.31,200.13 100.09,199.83 100.87,199.44 101.65,198.98 102.43,198.45 103.20,197.86 103.98,197.23 104.76,196.56 105.54,195.86 106.32,195.12 107.09,194.35 107.87,193.55 108.65,192.75 109.43,191.93 110.21,191.10 110.98,190.28 111.76,189.45 112.54,188.61 113.32,187.77 114.10,186.92 114.87,186.05 115.65,185.16 116.43,184.25 117.21,183.30 117.99,182.31 118.76,181.27 119.54,180.20 120.32,179.08 121.10,177.93 121.88,176.76 122.65,175.55 123.43,174.32 124.21,173.06 124.99,171.76 125.76,170.44 126.54,169.08 127.32,167.68 128.10,166.26 128.88,164.82 129.65,163.35 130.43,161.87 131.21,160.38 131.99,158.88 132.77,157.40 133.54,155.92 134.32,154.46 135.10,153.04 135.88,151.64 136.66,150.30 137.43,149.00 138.21,147.77 138.99,146.60 139.77,145.49 140.55,144.44 141.32,143.45 142.10,142.52 142.88,141.65 143.66,140.83 144.44,140.07 145.21,139.35 145.99,138.69 146.77,138.08 147.55,137.52 148.33,137.01 149.10,136.54 149.88,136.11 150.66,135.73 151.44,135.38 152.22,135.05 152.99,134.74 153.77,134.45 154.55,134.17 155.33,133.89 156.10,133.63 156.88,133.38 157.66,133.13 158.44,132.89 159.22,132.64 159.99,132.38 160.77,132.10 161.55,131.79 162.33,131.47 163.11,131.13 163.88,130.77 164.66,130.39 165.44,130.00 166.22,129.59 167.00,129.17 167.77,128.72 168.55,128.25 169.33,127.76 170.11,127.25 170.89,126.72 171.66,126.17 172.44,125.61 173.22,125.03 174.00,124.45 174.78,123.85 175.55,123.24 176.33,122.62 177.11,121.98 177.89,121.33 178.67,120.68 179.44,120.02 180.22,119.37 181.00,118.73 181.78,118.10 182.56,117.48 183.33,116.85 184.11,116.21 184.89,115.57 185.67,114.93 186.45,114.28 187.22,113.62 188.00,112.97 188.78,112.32 189.56,111.67 190.33,111.02 191.11,110.37 191.89,109.72 192.67,109.08 193.45,108.42 194.22,107.76 195.00,107.09 195.78,106.39 196.56,105.68 197.34,104.94 198.11,104.17 198.89,103.38 199.67,102.55 200.45,101.69 201.23,100.81 202.00,99.88 202.78,98.93 203.56,97.94 204.34,96.92 205.12,95.86 205.89,94.77 206.67,93.64 207.45,92.48 208.23,91.28 209.01,90.03 209.78,88.74 210.56,87.40 211.34,85.99 212.12,84.51 212.90,82.97 213.67,81.39 214.45,79.77 215.23,78.13 216.01,76.47 216.79,74.79 217.56,73.08 218.34,71.32 219.12,69.51 219.90,67.63 220.68,65.72 221.45,63.80 222.23,61.89 223.01,60.03 223.79,58.23 224.56,56.48 225.34,54.78 226.12,53.09 226.90,51.40 227.68,49.70 228.45,47.99 229.23,46.26 230.01,44.52 230.79,42.78 231.57,41.03 232.34,39.29 233.12,37.56 233.90,35.88 234.68,34.24 235.46,32.66 236.23,31.14 237.01,29.67 237.79,28.26 238.57,26.89 239.35,25.58 240.12,24.33 240.90,23.14 241.68,22.03 242.46,21.00 243.24,20.07 244.01,19.23 244.79,18.49 245.57,17.82 246.35,17.25 247.13,16.75 247.90,16.33 248.68,15.99 249.46,15.72 250.24,15.54 251.02,15.43 251.79,15.40 252.57,15.46 253.35,15.62 254.13,15.88 254.91,16.25 255.68,16.71 256.46,17.27 257.24,17.91 258.02,18.61 258.80,19.38 259.57,20.21 260.35,21.13 261.13,22.13 261.91,23.22 262.68,24.42 263.46,25.71 264.24,27.09 265.02,28.54 265.80,30.05 266.57,31.62 267.35,33.25 268.13,34.92 268.91,36.65 269.69,38.42 270.46,40.25 271.24,42.12 272.02,44.04 272.80,46.00 273.58,47.99 274.35,50.01 275.13,52.06 275.91,54.14 276.69,56.26 277.47,58.40 278.24,60.58 279.02,62.78 279.80,65.01 280.58,67.25 281.36,69.51 282.13,71.77 282.91,74.05 283.69,76.34 284.47,78.64 285.25,80.95 286.02,83.27 286.80,85.60 287.58,87.93 288.36,90.25 289.14,92.56 289.91,94.85 290.69,97.12 291.47,99.39 292.25,101.65 293.03,103.92 293.80,106.19 294.58,108.47 295.36,110.73 296.14,112.98 296.91,115.19 297.69,117.36 298.47,119.51 299.25,121.62 300.03,123.71 300.80,125.78 301.58,127.84 302.36,129.88 303.14,131.90 303.92,133.89 304.69,135.85 305.47,137.78 306.25,139.66 307.03,141.51 307.81,143.31 308.58,145.08 309.36,146.80 310.14,148.49 310.92,150.14 311.70,151.77 312.47,153.36 313.25,154.93 314.03,156.47 314.81,157.99 315.59,159.49 316.36,160.96 317.14,162.41 317.92,163.84 318.70,165.24 319.48,166.61 320.25,167.96 321.03,169.28 321.81,170.57 322.59,171.83 323.37,173.07 324.14,174.28 324.92,175.46 325.70,176.62 326.48,177.75 327.25,178.85 328.03,179.92 328.81,180.96 329.59,181.97 330.37,182.96 331.14,183.92 331.92,184.87 332.70,185.79 333.48,186.69 334.26,187.57 335.03,188.41 335.81,189.22 336.59,190.00 337.37,190.75 338.15,191.47 338.92,192.19 339.70,192.90 340.48,193.60 341.26,194.31 342.04,195.00 342.81,195.67 343.59,196.31 344.37,196.92 345.15,197.49 345.93,198.04 346.70,198.59 347.48,199.13 348.26,199.67 349.04,200.22 349.82,200.75 350.59,201.28 351.37,201.78 352.15,202.25 352.93,202.70 353.71,203.12 354.48,203.52 355.26,203.91 356.04,204.28 356.82,204.65 357.60,205.00 358.37,205.35 359.15,205.70 359.93,206.06 360.71,206.42 361.49,206.79 362.26,207.18 363.04,207.58" fill="none" stroke="#7f7f7f" stroke-width="1.9" stroke-linejoin="round" stroke-linecap="square"/></g>
<rect x="36.3" y="5.4" width="342.3" height="223.1" fill="none" stroke="#000" stroke-width="1.1"/>
<line x1="67.42" x2="67.42" y1="228.5" y2="231.5" stroke="#000" stroke-width="1"/>
<text x="67.42" y="241.8" text-anchor="middle" font-size="9.3" textLength="13.1" lengthAdjust="spacingAndGlyphs" class="t">400</text>
<line x1="106.32" x2="106.32" y1="228.5" y2="231.5" stroke="#000" stroke-width="1"/>
<text x="106.32" y="241.8" text-anchor="middle" font-size="9.3" textLength="13.1" lengthAdjust="spacingAndGlyphs" class="t">450</text>
<line x1="145.21" x2="145.21" y1="228.5" y2="231.5" stroke="#000" stroke-width="1"/>
<text x="145.21" y="241.8" text-anchor="middle" font-size="9.3" textLength="13.1" lengthAdjust="spacingAndGlyphs" class="t">500</text>
<line x1="184.11" x2="184.11" y1="228.5" y2="231.5" stroke="#000" stroke-width="1"/>
<text x="184.11" y="241.8" text-anchor="middle" font-size="9.3" textLength="13.1" lengthAdjust="spacingAndGlyphs" class="t">550</text>
<line x1="223.01" x2="223.01" y1="228.5" y2="231.5" stroke="#000" stroke-width="1"/>
<text x="223.01" y="241.8" text-anchor="middle" font-size="9.3" textLength="13.1" lengthAdjust="spacingAndGlyphs" class="t">600</text>
<line x1="261.91" x2="261.91" y1="228.5" y2="231.5" stroke="#000" stroke-width="1"/>
<text x="261.91" y="241.8" text-anchor="middle" font-size="9.3" textLength="13.1" lengthAdjust="spacingAndGlyphs" class="t">650</text>
<line x1="300.80" x2="300.80" y1="228.5" y2="231.5" stroke="#000" stroke-width="1"/>
<text x="300.80" y="241.8" text-anchor="middle" font-size="9.3" textLength="13.1" lengthAdjust="spacingAndGlyphs" class="t">700</text>
<line x1="339.70" x2="339.70" y1="228.5" y2="231.5" stroke="#000" stroke-width="1"/>
<text x="339.70" y="241.8" text-anchor="middle" font-size="9.3" textLength="13.1" lengthAdjust="spacingAndGlyphs" class="t">750</text>
<line x1="378.60" x2="378.60" y1="228.5" y2="231.5" stroke="#000" stroke-width="1"/>
<text x="378.60" y="241.8" text-anchor="middle" font-size="9.3" textLength="13.1" lengthAdjust="spacingAndGlyphs" class="t">800</text>
<line x1="33.3" x2="36.3" y1="218.00" y2="218.00" stroke="#000" stroke-width="1"/>
<text x="29.2" y="221.10" text-anchor="end" font-size="9.3" class="t">0.0</text>
<line x1="33.3" x2="36.3" y1="177.48" y2="177.48" stroke="#000" stroke-width="1"/>
<text x="29.2" y="180.58" text-anchor="end" font-size="9.3" class="t">0.2</text>
<line x1="33.3" x2="36.3" y1="136.96" y2="136.96" stroke="#000" stroke-width="1"/>
<text x="29.2" y="140.06" text-anchor="end" font-size="9.3" class="t">0.4</text>
<line x1="33.3" x2="36.3" y1="96.44" y2="96.44" stroke="#000" stroke-width="1"/>
<text x="29.2" y="99.54" text-anchor="end" font-size="9.3" class="t">0.6</text>
<line x1="33.3" x2="36.3" y1="55.92" y2="55.92" stroke="#000" stroke-width="1"/>
<text x="29.2" y="59.02" text-anchor="end" font-size="9.3" class="t">0.8</text>
<line x1="33.3" x2="36.3" y1="15.40" y2="15.40" stroke="#000" stroke-width="1"/>
<text x="29.2" y="18.50" text-anchor="end" font-size="9.3" class="t">1.0</text>
<text x="207.5" y="255.5" text-anchor="middle" font-size="10.3" textLength="81.8" lengthAdjust="spacingAndGlyphs" class="t">Wavelength in nm</text>
<text transform="translate(11.0,117) rotate(-90)" text-anchor="middle" font-size="10" textLength="108.3" lengthAdjust="spacingAndGlyphs" class="t">Relative spectral density</text>
<rect x="383.2" y="9.2" width="163.5" height="113.6" rx="1.6" fill="#fff" stroke="#ccc" stroke-width="0.8"/>
<line x1="385.8" x2="406.2" y1="17.00" y2="17.00" stroke="#1f77b4" stroke-width="1.9"/>
<text y="20.20" font-size="10" class="t"><tspan x="413">Standard</tspan> <tspan x="452.4">Illuminant</tspan> <tspan x="497.6" textLength="6.2" lengthAdjust="spacingAndGlyphs">A</tspan></text>
<line x1="385.8" x2="406.2" y1="31.00" y2="31.00" stroke="#ff7f0e" stroke-width="1.9"/>
<text y="34.20" font-size="10" class="t"><tspan x="413">Standard</tspan> <tspan x="452.4">Illuminant</tspan> <tspan x="497.6" textLength="15.4" lengthAdjust="spacingAndGlyphs">D65</tspan></text>
<line x1="385.8" x2="406.2" y1="45.00" y2="45.00" stroke="#2ca02c" stroke-width="1.9"/>
<text y="48.20" font-size="10" class="t"><tspan x="413">Standard</tspan> <tspan x="452.4">Illuminant</tspan> <tspan x="497.6" textLength="14.9" lengthAdjust="spacingAndGlyphs">FL9</tspan></text>
<line x1="385.8" x2="406.2" y1="59.00" y2="59.00" stroke="#d62728" stroke-width="1.9"/>
<text y="62.20" font-size="10" class="t"><tspan x="413">Standard</tspan> <tspan x="452.4">Illuminant</tspan> <tspan x="497.6" textLength="18.8" lengthAdjust="spacingAndGlyphs">FL12</tspan></text>
<line x1="385.8" x2="406.2" y1="73.00" y2="73.00" stroke="#9467bd" stroke-width="1.9"/>
<text y="76.20" font-size="10" class="t"><tspan x="413">Standard</tspan> <tspan x="452.4">Illuminant</tspan> <tspan x="497.6" textLength="29.9" lengthAdjust="spacingAndGlyphs">LED-B1</tspan></text>
<line x1="385.8" x2="406.2" y1="87.00" y2="87.00" stroke="#8c564b" stroke-width="1.9"/>
<text y="90.20" font-size="10" class="t"><tspan x="413">Standard</tspan> <tspan x="452.4">Illuminant</tspan> <tspan x="497.6" textLength="30.6" lengthAdjust="spacingAndGlyphs">LED-B4</tspan></text>
<line x1="385.8" x2="406.2" y1="101.00" y2="101.00" stroke="#e377c2" stroke-width="1.9"/>
<text y="104.20" font-size="10" class="t"><tspan x="413">Standard</tspan> <tspan x="452.4">Illuminant</tspan> <tspan x="497.6" textLength="43.2" lengthAdjust="spacingAndGlyphs">LED-RGB1</tspan></text>
<line x1="385.8" x2="406.2" y1="115.00" y2="115.00" stroke="#7f7f7f" stroke-width="1.9"/>
<text y="118.20" font-size="10" class="t"><tspan x="413">Standard</tspan> <tspan x="452.4">Illuminant</tspan> <tspan x="497.6" textLength="30.6" lengthAdjust="spacingAndGlyphs">LED-V1</tspan></text>
</svg>
</body></html>
